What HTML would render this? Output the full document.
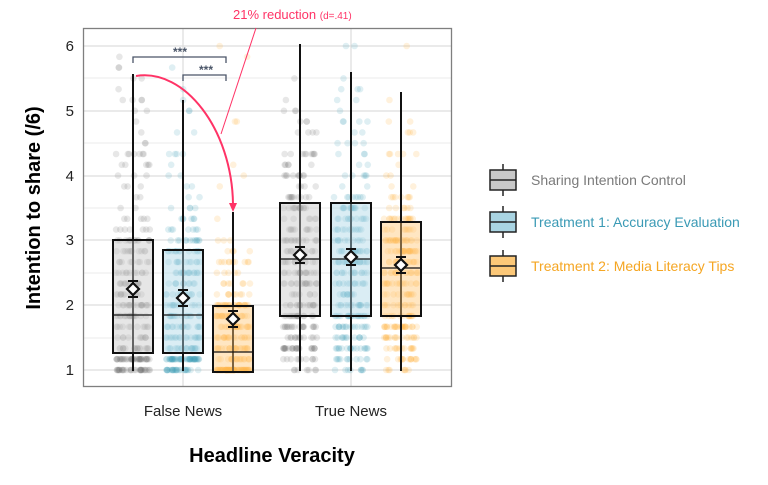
<!DOCTYPE html>
<html><head><meta charset="utf-8"><style>
body{margin:0;background:#fff;width:768px;height:480px;overflow:hidden;font-family:"Liberation Sans",sans-serif}
</style></head><body>
<svg id="s" width="768" height="480" xmlns="http://www.w3.org/2000/svg" font-family="Liberation Sans, sans-serif">
<rect x="0" y="0" width="768" height="480" fill="#fff"/>
<g stroke="#ebebeb" stroke-width="1">
<line x1="84" x2="451" y1="338" y2="338"/><line x1="84" x2="451" y1="273" y2="273"/><line x1="84" x2="451" y1="208" y2="208"/><line x1="84" x2="451" y1="143" y2="143"/><line x1="84" x2="451" y1="78" y2="78"/>
</g>
<g stroke="#dedede" stroke-width="1.3">
<line x1="84" x2="451" y1="370" y2="370"/><line x1="84" x2="451" y1="305" y2="305"/><line x1="84" x2="451" y1="240" y2="240"/><line x1="84" x2="451" y1="176" y2="176"/><line x1="84" x2="451" y1="111" y2="111"/><line x1="84" x2="451" y1="46" y2="46"/>
<line x1="183" x2="183" y1="29" y2="386"/><line x1="351" x2="351" y1="29" y2="386"/>
</g>
<g id="dots"></g>
<g id="boxes"></g>
<rect x="83.5" y="28.5" width="368" height="358" fill="none" stroke="#7f7f7f" stroke-width="1.3"/>
<g font-size="15" fill="#222" text-anchor="end">
<text x="74" y="375">1</text><text x="74" y="310">2</text><text x="74" y="245">3</text><text x="74" y="181">4</text><text x="74" y="116">5</text><text x="74" y="51">6</text>
</g>
<g font-size="15" fill="#222" text-anchor="middle">
<text x="183" y="416">False News</text><text x="351" y="416">True News</text>
</g>
<text x="272" y="462" font-size="20" font-weight="bold" text-anchor="middle" fill="#000">Headline Veracity</text>
<text transform="translate(40,208) rotate(-90)" font-size="20" font-weight="bold" text-anchor="middle" fill="#000">Intention to share (/6)</text>
<g stroke="#4a5568" stroke-width="1.3" fill="none">
<path d="M133,63 V57 H226 V63"/><path d="M183,81 V75 H226 V81"/>
</g>
<text x="180" y="56" font-size="12" font-weight="bold" fill="#4a5568" text-anchor="middle">***</text>
<text x="206" y="74" font-size="12" font-weight="bold" fill="#4a5568" text-anchor="middle">***</text>
<path d="M136,76 C185,68 232,130 233,204" stroke="#ff3366" stroke-width="2" fill="none"/>
<path d="M229,203 L233,212 L237,203 Z" fill="#ff3366"/>
<line x1="256" y1="28" x2="221" y2="134" stroke="#ff3366" stroke-width="1"/>
<text x="233" y="19" font-size="13" fill="#ff3366">21% reduction <tspan font-size="10">(d=.41)</tspan></text>
<g font-size="14">
<line x1="503" x2="503" y1="164" y2="196" stroke="#222" stroke-width="1.5"/>
<rect x="490" y="170" width="26" height="20" fill="#c8c8c8" stroke="#222" stroke-width="1.5"/>
<line x1="490" x2="516" y1="180" y2="180" stroke="#222" stroke-width="1.5"/>
<text x="531" y="185" fill="#7a7a7a">Sharing Intention Control</text>
<line x1="503" x2="503" y1="206" y2="238" stroke="#222" stroke-width="1.5"/>
<rect x="490" y="212" width="26" height="20" fill="#a9d4e2" stroke="#222" stroke-width="1.5"/>
<line x1="490" x2="516" y1="222" y2="222" stroke="#222" stroke-width="1.5"/>
<text x="531" y="227" fill="#3a9ab5">Treatment 1: Accuracy Evaluation</text>
<line x1="503" x2="503" y1="250" y2="282" stroke="#222" stroke-width="1.5"/>
<rect x="490" y="256" width="26" height="20" fill="#fcc878" stroke="#222" stroke-width="1.5"/>
<line x1="490" x2="516" y1="266" y2="266" stroke="#222" stroke-width="1.5"/>
<text x="531" y="271" fill="#f5a623">Treatment 2: Media Literacy Tips</text>
</g>
</svg>
<script>
(function(){
var ns="http://www.w3.org/2000/svg";
var B=[
 {c:133,t:240,b:353,m:315,mn:289,wt:74,wb:371,col:"#6b6b6b",f:"rgba(200,200,200,0.45)"},
 {c:183,t:250,b:353,m:315,mn:298,wt:100,wb:371,col:"#3a9ab5",f:"rgba(173,216,230,0.45)"},
 {c:233,t:306,b:372,m:352,mn:319,wt:212,wb:372,col:"#ffa726",f:"rgba(255,200,120,0.45)"},
 {c:300,t:203,b:316,m:259,mn:255,wt:44,wb:371,col:"#6b6b6b",f:"rgba(200,200,200,0.45)"},
 {c:351,t:203,b:316,m:259,mn:257,wt:72,wb:371,col:"#3a9ab5",f:"rgba(173,216,230,0.45)"},
 {c:401,t:222,b:316,m:268,mn:265,wt:92,wb:371,col:"#ffa726",f:"rgba(255,200,120,0.45)"}
];
var seed=7;function r(){seed=(seed*16807)%2147483647;return seed/2147483647;}
var D=document.getElementById("dots"),G=document.getElementById("boxes");
function el(p,a,t){var e=document.createElementNS(ns,t);for(var k in a)e.setAttribute(k,a[k]);p.appendChild(e);return e;}
B.forEach(function(b){
 for(var i=0;i<260;i++){
  var y;var u=r();
  if(u<0.55) y=b.t+(b.b-b.t)*r(); else if(u<0.85) y=b.b+(371-b.b)*r(); else y=b.t-(b.t-b.wt)*r()*r();
  if(r()<0.04) y=45+(b.t-45)*r();
  if(b.c==233&&y<100&&r()<0.7)y=46;
  y=370-Math.round((370-y)/10.8)*10.8;
  el(D,{cx:b.c-17+34*r(),cy:y,r:3.3,fill:b.col,"fill-opacity":0.16},"circle");
 }
});
B.forEach(function(b){
 el(G,{x1:b.c,x2:b.c,y1:b.wt,y2:b.wb,stroke:"#111","stroke-width":2},"line");
 el(G,{x:b.c-20,y:b.t,width:40,height:b.b-b.t,fill:b.f,stroke:"#111","stroke-width":2},"rect");
 el(G,{x1:b.c-20,x2:b.c+20,y1:b.m,y2:b.m,stroke:"#111","stroke-width":1.3},"line");
 el(G,{d:"M"+(b.c-5)+","+(b.mn-8)+"H"+(b.c+5)+"M"+b.c+","+(b.mn-8)+"V"+(b.mn+8)+"M"+(b.c-5)+","+(b.mn+8)+"H"+(b.c+5),stroke:"#111","stroke-width":2,fill:"none"},"path");
 el(G,{d:"M"+b.c+","+(b.mn-6)+"L"+(b.c+6)+","+b.mn+"L"+b.c+","+(b.mn+6)+"L"+(b.c-6)+","+b.mn+"Z",stroke:"#111","stroke-width":2.2,fill:"#fff"},"path");
});
})();
</script>
</body></html>
